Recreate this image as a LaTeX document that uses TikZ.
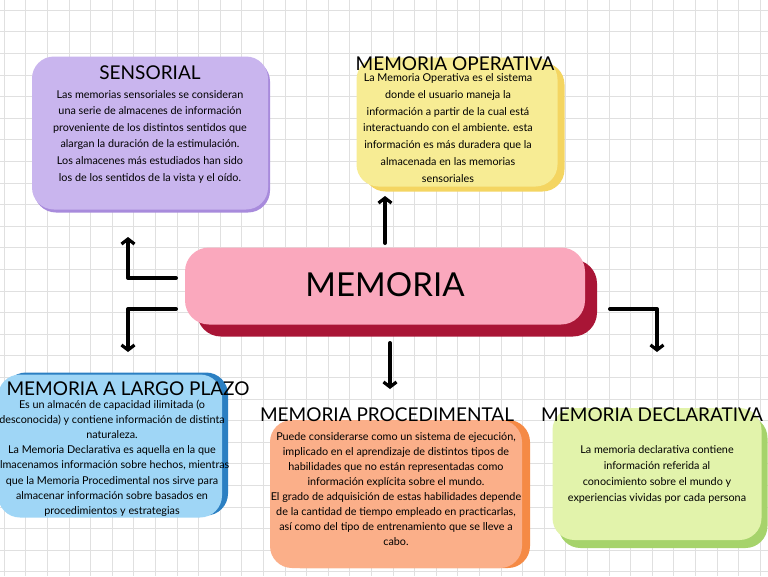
\documentclass[tikz,border=0pt]{standalone}
\usepackage{fontspec}
\setmainfont{Lato}
\usetikzlibrary{shadows,arrows.meta}

\definecolor{cuadro}{HTML}{E0E0E0}
\definecolor{lila}{HTML}{C9B5EE}
\definecolor{lilaosc}{HTML}{A88BDC}
\definecolor{amarillo}{HTML}{F7EC94}
\definecolor{amarilloosc}{HTML}{F4D561}
\definecolor{rosa}{HTML}{FAA8BD}
\definecolor{rosaosc}{HTML}{A91536}
\definecolor{celeste}{HTML}{9FD6F6}
\definecolor{celesteosc}{HTML}{2B7FC2}
\definecolor{naranja}{HTML}{FBAF89}
\definecolor{naranjaosc}{HTML}{F58A45}
\definecolor{verde}{HTML}{E2F3AB}
\definecolor{verdeosc}{HTML}{A6D36B}

\tikzset{
  caja/.style={rounded corners=22pt, inner sep=0pt},
  titulo/.style={font=\fontsize{19}{19}\selectfont, inner sep=0pt},
  cuerpo/.style={align=center, inner sep=0pt, font=\fontsize{10.8}{#1}\selectfont},
  flecha/.style={line width=4pt, line cap=round, line join=round,
    -{Straight Barb[length=5pt,width=13pt,line width=3.2pt]}}
}

\begin{document}
\begin{tikzpicture}[x=1pt, y=-1pt]
  \useasboundingbox (0,0) rectangle (768,576);
  \fill[white] (0,0) rectangle (768,576);
  % fondo cuadriculado
  \foreach \i in {0,...,36} {
    \draw[cuadro, line width=0.5pt] (\i*21.6+4,0) -- (\i*21.6+4,576);
  }
  \foreach \j in {0,...,27} {
    \draw[cuadro, line width=0.5pt] (0,\j*21.6+10) -- (768,\j*21.6+10);
  }

  % cajas
  \node[caja, fill=lila, minimum width=236pt, minimum height=153pt,
    drop shadow={shadow xshift=2pt, shadow yshift=-3pt, fill=lilaosc, opacity=1}] (sens) at (150,133) {};
  \node[caja, fill=amarillo, minimum width=201pt, minimum height=129pt,
    drop shadow={shadow xshift=7pt, shadow yshift=-5pt, fill=amarilloosc, opacity=1}] (oper) at (457,122) {};
  \node[caja, rounded corners=24pt, fill=rosa, minimum width=400pt, minimum height=77pt,
    drop shadow={shadow xshift=12pt, shadow yshift=-12pt, fill=rosaosc, opacity=1}] (mem) at (385,286) {};
  \node[caja, fill=celeste, minimum width=224pt, minimum height=143pt,
    drop shadow={shadow xshift=6pt, shadow yshift=2pt, fill=celesteosc, opacity=1}] (largo) at (110,446) {};
  \node[caja, fill=naranja, minimum width=252pt, minimum height=148pt,
    drop shadow={shadow xshift=8pt, shadow yshift=0pt, fill=naranjaosc, opacity=1}] (proc) at (396,494) {};
  \node[caja, fill=verde, minimum width=209pt, minimum height=132pt,
    drop shadow={shadow xshift=6pt, shadow yshift=-8pt, fill=verdeosc, opacity=1}] (decl) at (657,474) {};

  % titulos
  \node[titulo] (sens-t) at (150,73) {SENSORIAL};
  \node[titulo] (oper-t) at (455,64) {MEMORIA OPERATIVA};
  \node[titulo, font=\fontsize{33}{33}\selectfont] (mem-t) at (385,285) {MEMORIA};
  \node[titulo] (largo-t) at (128,389) {MEMORIA A LARGO PLAZO};
  \node[titulo] (proc-t) at (387,415) {MEMORIA PROCEDIMENTAL};
  \node[titulo] (decl-t) at (652,415) {MEMORIA DECLARATIVA};

  % textos
  \node[cuerpo=16.6] (sens-c) at (150,136.5) {Las memorias sensoriales se consideran\\
    una serie de almacenes de información\\
    proveniente de los distintos sentidos que\\
    alargan la duración de la estimulación.\\
    Los almacenes más estudiados han sido\\
    los de los sentidos de la vista y el oído.};
  \node[cuerpo=16.7] (oper-c) at (448,128) {La Memoria Operativa es el sistema\\
    donde el usuario maneja la\\
    información a partir de la cual está\\
    interactuando con el ambiente. esta\\
    información es más duradera que la\\
    almacenada en las memorias\\
    sensoriales};
  \node[cuerpo=15.2] (largo-c) at (112,458) {Es un almacén de capacidad ilimitada (o\\
    desconocida) y contiene información de distinta\\
    naturaleza.\\
    La Memoria Declarativa es aquella en la que\\
    almacenamos información sobre hechos, mientras\\
    que la Memoria Procedimental nos sirve para\\
    almacenar información sobre basados en\\
    procedimientos y estrategias};
  \node[cuerpo=15] (proc-c) at (396,489.5) {Puede considerarse como un sistema de ejecución,\\
    implicado en el aprendizaje de distintos tipos de\\
    habilidades que no están representadas como\\
    información explícita sobre el mundo.\\
    El grado de adquisición de estas habilidades depende\\
    de la cantidad de tiempo empleado en practicarlas,\\
    así como del tipo de entrenamiento que se lleve a\\
    cabo.};
  \node[cuerpo=16] (decl-c) at (657,474) {La memoria declarativa contiene\\
    información referida al\\
    conocimiento sobre el mundo y\\
    experiencias vividas por cada persona};

  % flechas
  \coordinate (arr-a) at (385,243);
  \coordinate (arr-b) at (385,196);
  \coordinate (abj-a) at (390,343);
  \coordinate (abj-b) at (390,389);
  \coordinate (izq-a) at (176,278);
  \coordinate (izq-b) at (128,237);
  \coordinate (izq-c) at (176,309);
  \coordinate (izq-d) at (128,352);
  \coordinate (der-a) at (610,309);
  \coordinate (der-b) at (657,352);
  \draw[flecha] (arr-a) -- (arr-b);
  \draw[flecha] (abj-a) -- (abj-b);
  \draw[flecha] (izq-a) -| (izq-b);
  \draw[flecha] (izq-c) -| (izq-d);
  \draw[flecha] (der-a) -| (der-b);
\end{tikzpicture}
\end{document}
